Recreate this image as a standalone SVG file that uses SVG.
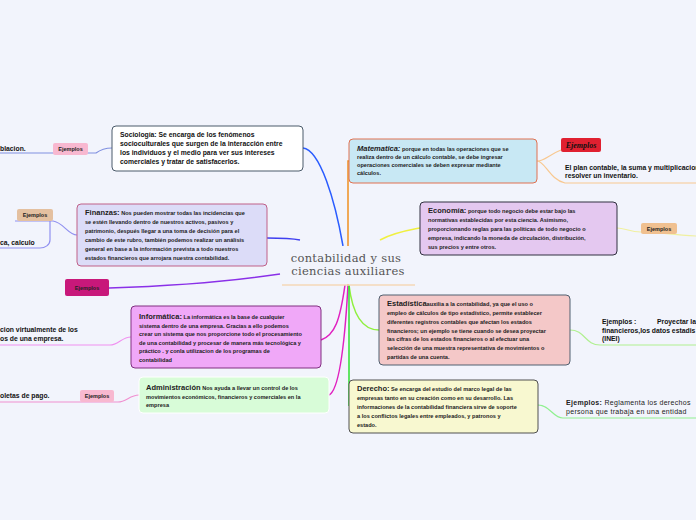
<svg xmlns="http://www.w3.org/2000/svg" width="696" height="520" viewBox="0 0 696 520">
<style>
.t{font-family:"Liberation Sans",Arial,sans-serif;font-size:5.6px;font-weight:bold;fill:#222}
.h{font-family:"Liberation Sans",Arial,sans-serif;font-size:7.5px;font-weight:bold;fill:#222}
.e{font-family:"Liberation Sans",Arial,sans-serif;font-size:6.8px;font-weight:bold;fill:#111}
.s{font-family:"Liberation Sans",Arial,sans-serif;font-size:5.5px;font-weight:bold;fill:#222;text-anchor:middle}
path{fill:none}
</style>
<rect width="696" height="520" fill="#f2f4fc"/>
<g id="connectors" stroke-width="1.2">
<path d="M343,246 C335,200 320,150 303,148" stroke="#2a5cff" stroke-width="1.5"/>
<path d="M267,238 C280,238 290,238 300,240" stroke="#4040f0" stroke-width="1.5"/>
<path d="M109,288 C180,286 240,280 280,274" stroke="#8a30e8" stroke-width="1.5"/>
<path d="M345,285 C340,320 335,335 321,340" stroke="#e020c0" stroke-width="1.5"/>
<path d="M348,285 C345,340 340,390 329,395" stroke="#e020c0" stroke-width="1.5"/>
<path d="M348,285 L348,161 L349,161" stroke="#f09020" stroke-width="1.5"/>
<path d="M380,240 C395,232 410,230 420,228" stroke="#f0f040" stroke-width="1.5"/>
<path d="M349,285 C352,310 360,330 379,330" stroke="#90f040" stroke-width="1.5"/>
<path d="M349,285 L349,406 L349,406" stroke="#30e030" stroke-width="1.5"/>
<path d="M112,148 C105,148 100,150 96,153 L0,153" stroke="#8090e0"/>
<path d="M77,235 C68,235 63,222 53,221 L15,221 M50,221 L50,240 C50,245 45,248 40,248 L0,248" stroke="#9090f0"/>
<path d="M131,337 C122,337 118,345 110,345 L0,345" stroke="#f090f0"/>
<path d="M139,395 C130,395 126,402 118,402 L0,402" stroke="#f090d0"/>
<path d="M537,161 C545,161 548,155 561,150 M537,161 C545,161 550,180 565,183 L696,183" stroke="#f8c890"/>
<path d="M617,228 C625,228 630,232 641,232 C660,232 670,235 696,236" stroke="#f0f0a0"/>
<path d="M570,330 C585,330 585,345 600,345 L696,345" stroke="#b0f090"/>
<path d="M538,405 C550,405 553,418 563,418 L696,418" stroke="#90f090"/>
</g>
<g id="center">
<rect x="284" y="246" width="130" height="38" fill="#f2f4fc"/>
<text x="346" y="262" text-anchor="middle" font-family="'DejaVu Serif',serif" font-size="11.5" fill="#555" letter-spacing="0.3">contabilidad y sus</text>
<text x="348" y="275" text-anchor="middle" font-family="'DejaVu Serif',serif" font-size="11.5" fill="#555" letter-spacing="0.3">ciencias  auxiliares</text>
<line x1="282" y1="285" x2="415" y2="285" stroke="#f4d8b8" stroke-width="1.5"/>
</g>
<g id="sociologia">
<rect x="112" y="126" width="191" height="45" rx="4" fill="#fff" stroke="#4a5a6a"/>
<text class="e"><tspan x="120" y="137">Sociología:  Se encarga de los fenómenos</tspan><tspan x="120" y="146">socioculturales que surgen de la interacción entre</tspan><tspan x="120" y="155">los individuos y el medio para ver sus intereses</tspan><tspan x="120" y="164">comerciales y tratar de satisfacerlos.</tspan></text>
</g>
<g id="ej-soc"><rect x="53" y="143" width="35" height="12" rx="2" fill="#f8b8d0"/><text class="s" x="70.5" y="151">Ejemplos</text>
<text class="e" x="0" y="151">blacion.</text></g>
<g id="finanzas">
<rect x="77" y="204" width="190" height="62" rx="4" fill="#dcdcf8" stroke="#c06088"/>
<text class="t"><tspan x="85" y="215"><tspan class="h">Finanzas:</tspan> Nos pueden mostrar todas las incidencias que</tspan><tspan x="85" y="224">se estén llevando dentro de nuestros activos, pasivos y</tspan><tspan x="85" y="233">patrimonio, después  llegar a una toma de decisión para el</tspan><tspan x="85" y="242">cambio de este rubro, también podemos realizar un análisis</tspan><tspan x="85" y="251">general en base a la información prevista a todo nuestros</tspan><tspan x="85" y="260">estados financieros que arrojara nuestra contabilidad.</tspan></text>
</g>
<g id="ej-fin"><rect x="17" y="209" width="36" height="12" rx="2" fill="#e4c0a0"/><text class="s" x="35" y="217">Ejemplos</text>
<text class="e" x="0" y="245">ca, calculo</text></g>
<g id="ej-mag"><rect x="65" y="279" width="44" height="17" rx="2" fill="#c8187a"/><text class="s" x="87" y="290">Ejemplos</text></g>
<g id="informatica">
<rect x="131" y="306" width="190" height="62" rx="4" fill="#f0a8f8" stroke="#803080"/>
<text class="t"><tspan x="139" y="319"><tspan class="h">Informática:</tspan> La informática es la base de cualquier</tspan><tspan x="139" y="328">sistema dentro de una empresa. Gracias a ello podemos</tspan><tspan x="139" y="336">crear un sistema que nos proporcione todo el procesamiento</tspan><tspan x="139" y="345">de una contabilidad y procesar de manera más tecnológica y</tspan><tspan x="139" y="353">práctico . y conla utilizacion de los programas de</tspan><tspan x="139" y="362">contabilidad</tspan></text>
</g>
<g id="ej-inf"><text class="e"><tspan x="0" y="332">cion virtualmente  de los</tspan><tspan x="0" y="341">os de una empresa.</tspan></text></g>
<g id="administracion">
<rect x="139" y="377" width="190" height="36" rx="4" fill="#d8fcd8" stroke="#fff"/>
<text class="t"><tspan x="146" y="390"><tspan class="h">Administración</tspan>   Nos ayuda a llevar un control de los</tspan><tspan x="146" y="399">movimientos económicos, financieros y comerciales en la</tspan><tspan x="146" y="407">empresa</tspan></text>
</g>
<g id="ej-adm"><rect x="80" y="390" width="34" height="12" rx="2" fill="#f8b8d0"/><text class="s" x="97" y="398">Ejemplos</text>
<text class="e" x="0" y="398">oletas de pago.</text></g>
<g id="matematica">
<rect x="349" y="139" width="188" height="44" rx="4" fill="#c8e8f4" stroke="#e07050"/>
<text class="t"><tspan x="357" y="151"><tspan class="h" font-style="italic" font-size="6.8">Matematica:</tspan> porque en todas las operaciones que se</tspan><tspan x="357" y="159">realiza dentro de un cálculo contable, se debe ingresar</tspan><tspan x="357" y="167">operaciones comerciales se deben expresar mediante</tspan><tspan x="357" y="175">cálculos.</tspan></text>
</g>
<g id="ej-mat"><rect x="561" y="138" width="40" height="14" rx="2" fill="#e02030"/><text x="581" y="148" text-anchor="middle" font-family="'Liberation Serif',serif" font-style="italic" font-weight="bold" font-size="8" fill="#111">Ejemplos</text>
<text class="e"><tspan x="565" y="170">El plan contable, la suma y multiplicacion</tspan><tspan x="565" y="178">resolver un inventario.</tspan></text></g>
<g id="economia">
<rect x="420" y="202" width="197" height="53" rx="4" fill="#e4c8f0" stroke="#303040"/>
<text class="t"><tspan x="428" y="213"><tspan class="h">Economía:</tspan> porque todo negocio debe estar bajo las</tspan><tspan x="428" y="222">normativas establecidas por esta ciencia. Asimismo,</tspan><tspan x="428" y="231">proporcionando reglas para las políticas de todo negocio o</tspan><tspan x="428" y="240">empresa, indicando la moneda de circulación, distribución,</tspan><tspan x="428" y="249">sus precios y entre otros.</tspan></text>
</g>
<g id="ej-eco"><rect x="641" y="223" width="36" height="11" rx="2" fill="#f0c090"/><text class="s" x="659" y="231">Ejemplos</text></g>
<g id="estadistica">
<rect x="379" y="295" width="191" height="70" rx="4" fill="#f4c8c8" stroke="#506070"/>
<text class="t"><tspan x="387" y="306"><tspan class="h">Estadística</tspan>auxilia a la contabilidad, ya que el uso o</tspan><tspan x="387" y="315">empleo de cálculos de tipo estadístico, permite establecer</tspan><tspan x="387" y="324">diferentes registros contables que afectan los estados</tspan><tspan x="387" y="333">financieros; un ejemplo se tiene cuando se desea proyectar</tspan><tspan x="387" y="341">las cifras de los estados financieros o al efectuar una</tspan><tspan x="387" y="350">selección de una muestra representativa de movimientos o</tspan><tspan x="387" y="359">partidas de una cuenta.</tspan></text>
</g>
<g id="ej-est"><text class="e"><tspan x="602" y="324">Ejemplos :</tspan><tspan x="657" y="324">Proyectar las</tspan><tspan x="602" y="333">financieros,los datos estadis</tspan><tspan x="602" y="341">(INEI)</tspan></text></g>
<g id="derecho">
<rect x="349" y="380" width="189" height="53" rx="4" fill="#f8f8d0" stroke="#505050"/>
<text class="t"><tspan x="357" y="391"><tspan class="h">Derecho:</tspan> Se encarga del estudio del marco legal de las</tspan><tspan x="357" y="400">empresas tanto en su creación como en su desarrollo. Las</tspan><tspan x="357" y="409">informaciones de la contabilidad financiera sirve de soporte</tspan><tspan x="357" y="418">a los conflictos legales entre empleados, y patronos y</tspan><tspan x="357" y="427">estado.</tspan></text>
</g>
<g id="ej-der"><text font-family="'Liberation Sans',Arial,sans-serif" font-size="7" fill="#222" letter-spacing="0.3"><tspan x="566" y="405"><tspan font-weight="bold">Ejemplos:</tspan>  Reglamenta los derechos</tspan><tspan x="566" y="414">persona que trabaja en una entidad</tspan></text></g>
</svg>
